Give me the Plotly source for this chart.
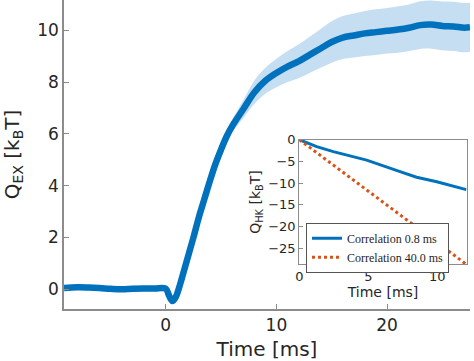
import plotly.graph_objects as go

# Main curve: excess heat Q_EX [k_B T] vs time [ms]
t_main = [-9.2, -8, -7, -6, -5, -4, -3, -2, -1, 0, 0.3, 0.6, 0.9, 1.3, 1.7, 2.1, 2.5,
          3.0, 3.5, 4.0, 4.5, 5.0, 5.5, 6.0, 7.0, 8.0, 9.0, 10.0, 11.0, 12.0, 13.0,
          14.0, 15.0, 16.0, 17.0, 18.0, 19.0, 20.0, 21.0, 22.0, 23.0, 24.0, 25.0,
          26.0, 27.0, 27.5]
q_main = [0.05, 0.08, 0.07, 0.05, 0.02, 0.0, 0.02, 0.03, 0.03, 0.02, -0.25, -0.45,
          -0.3, 0.2, 0.8, 1.4, 2.0, 2.8, 3.5, 4.2, 4.85, 5.4, 5.9, 6.3, 6.95, 7.6,
          8.05, 8.35, 8.6, 8.8, 9.05, 9.3, 9.55, 9.72, 9.8, 9.88, 9.93, 9.98, 10.03,
          10.1, 10.2, 10.22, 10.17, 10.15, 10.1, 10.12]
q_err = [0.1, 0.1, 0.1, 0.1, 0.1, 0.1, 0.1, 0.1, 0.1, 0.1, 0.12, 0.12, 0.12, 0.12,
         0.12, 0.12, 0.13, 0.15, 0.16, 0.18, 0.19, 0.2, 0.22, 0.25, 0.35, 0.45, 0.5,
         0.55, 0.6, 0.65, 0.7, 0.75, 0.8, 0.83, 0.85, 0.87, 0.88, 0.88, 0.9, 0.9,
         0.92, 0.93, 0.94, 0.95, 0.95, 0.95]

# Inset: housekeeping heat Q_HK [k_B T]
t_hk_short = [0, 1.26, 2.46, 4.88, 7.3, 8.5, 9.96, 12.1]
q_hk_short = [0, -1.6, -2.75, -4.7, -7.35, -8.65, -9.7, -11.5]
t_hk_long = [0, 5, 10, 12.1]
q_hk_long = [0, -11.9, -23.7, -28.7]

main_x_ticks = [0, 10, 20]
main_y_ticks = [0, 2, 4, 6, 8, 10]
inset_x_ticks = [0, 5, 10]
inset_y_ticks = [0, -5, -10, -15, -20, -25]

BLUE = "#0072BD"
BAND = "#c6def1"
RED = "#D95319"
AX = "#8c8c8c"
TXT = "#262626"
FONT = "DejaVu Sans"

upper = [q + e for q, e in zip(q_main, q_err)]
lower = [q - e for q, e in zip(q_main, q_err)]

fig = go.Figure()
fig.add_trace(go.Scatter(x=t_main, y=lower, mode="lines", line=dict(width=0, color=BAND),
                         showlegend=False, hoverinfo="skip", line_shape="spline"))
fig.add_trace(go.Scatter(x=t_main, y=upper, mode="lines", line=dict(width=0, color=BAND),
                         fill="tonexty", fillcolor=BAND, showlegend=False,
                         hoverinfo="skip", line_shape="spline"))
fig.add_trace(go.Scatter(x=t_main, y=q_main, mode="lines", line=dict(width=6.5, color=BLUE),
                         showlegend=False, line_shape="spline"))

fig.add_trace(go.Scatter(x=t_hk_short, y=q_hk_short, mode="lines", name="Correlation 0.8 ms",
                         line=dict(width=3, color=BLUE), xaxis="x2", yaxis="y2"))
fig.add_trace(go.Scatter(x=t_hk_long, y=q_hk_long, mode="lines", name="Correlation 40.0 ms",
                         line=dict(width=3, color=RED, dash="dot"), xaxis="x2", yaxis="y2"))

fig.update_layout(
    width=474, height=361,
    margin=dict(l=64, r=4, t=0, b=52, pad=0, autoexpand=False),
    paper_bgcolor="white", plot_bgcolor="white",
    font=dict(family=FONT, color=TXT),
    xaxis=dict(range=[-9.2, 27.5], tickvals=main_x_ticks, ticks="inside", ticklen=5,
               tickcolor=AX, showline=True, linecolor=AX, linewidth=1.5, showgrid=False,
               zeroline=False, tickfont=dict(size=17, color=TXT), automargin=True,
               title=dict(text="Time [ms]", font=dict(size=20, color=TXT), standoff=8)),
    yaxis=dict(range=[-0.76, 11.17], tickvals=main_y_ticks, ticks="inside", ticklen=5,
               tickcolor=AX, showline=True, linecolor=AX, linewidth=1.5, showgrid=False,
               zeroline=False, tickfont=dict(size=17, color=TXT), automargin=True,
               title=dict(text="Q<sub>EX</sub> [k<sub>B</sub>T]", font=dict(size=20, color=TXT),
                          standoff=12)),
    xaxis2=dict(domain=[0.5796, 0.9919], anchor="y2", range=[0, 12.13], tickvals=inset_x_ticks,
                ticks="inside", ticklen=4, tickcolor=AX, showline=True, mirror=True,
                linecolor=AX, linewidth=1.2, showgrid=False, zeroline=False, automargin=False,
                tickfont=dict(size=13, color=TXT),
                title=dict(text="Time [ms]", font=dict(size=14, color=TXT), standoff=2)),
    yaxis2=dict(domain=[0.1447, 0.5479], anchor="x2", range=[-28.7, 0], tickvals=inset_y_ticks,
                ticks="inside", ticklen=4, tickcolor=AX, showline=True, mirror=True,
                linecolor=AX, linewidth=1.2, showgrid=False, zeroline=False, automargin=False,
                tickfont=dict(size=13, color=TXT),
                title=dict(text="Q<sub>HK</sub> [k<sub>B</sub>T]", font=dict(size=14, color=TXT),
                           standoff=4)),
    legend=dict(x=0.596, y=0.279, xanchor="left", yanchor="top", traceorder="normal",
                font=dict(family="Liberation Serif", size=12, color=TXT),
                bgcolor="white", bordercolor="#555", borderwidth=1,
                tracegroupgap=0, itemwidth=30),
)

fig.write_html("out.html", config={"displayModeBar": False},
               post_script="document.body.style.margin='0';document.body.style.overflow='hidden';")
